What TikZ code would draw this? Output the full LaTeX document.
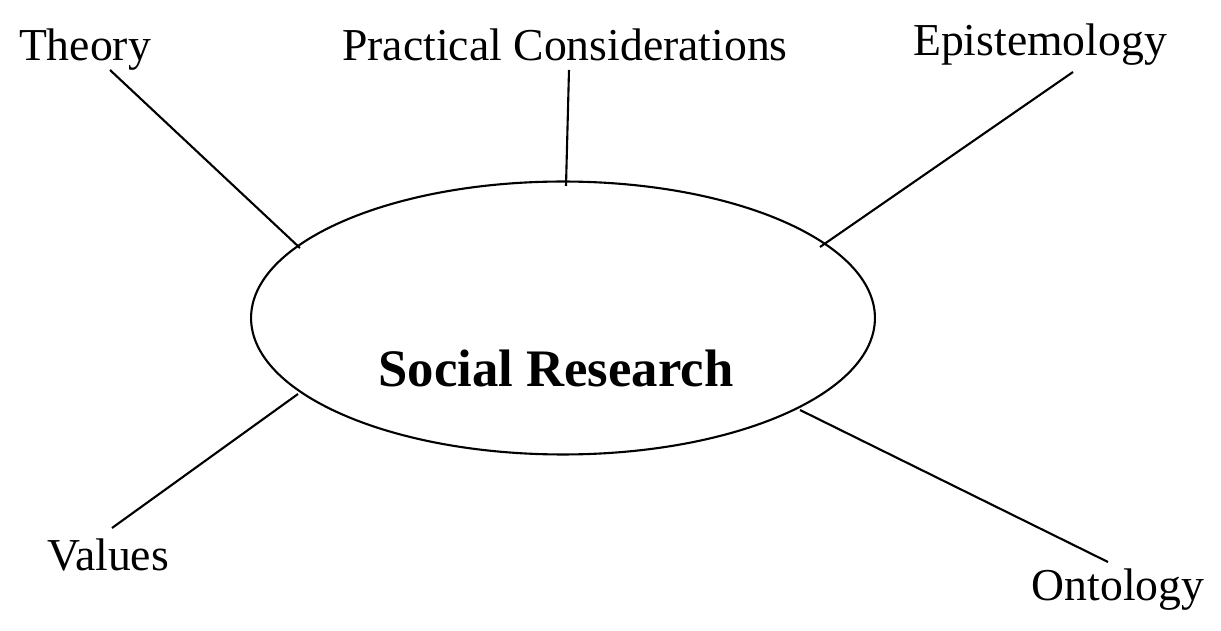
\documentclass[tikz,border=0pt]{standalone}
\usepackage{fontspec}
\setmainfont{Liberation Serif}
\usetikzlibrary{shapes.geometric}
\begin{document}
\begin{tikzpicture}[x=0.02cm,y=-0.02cm,
  lab/.style={font=\fontsize{26}{30}\selectfont, inner sep=0pt},
  conn/.style={line width=1.2pt}]
\useasboundingbox (0,0) rectangle (1221,631);
\node[draw, line width=1.2pt, ellipse, minimum width=624\pgflinewidth*0+12.48cm, minimum height=5.46cm] (sr) at (563,318) {};
\node[font=\bfseries\fontsize{30}{34}\selectfont] (srt) at (556,368) {Social Research};
\node[lab] (th) at (85,50) {Theory};
\node[lab] (pc) at (565,45) {Practical Considerations};
\node[lab] (ep) at (1040,45) {Epistemology};
\node[lab] (va) at (108,555) {Values};
\node[lab] (on) at (1118,590) {Ontology};
\coordinate (a1) at (110,70); \coordinate (b1) at (300,248);
\coordinate (a2) at (569,70); \coordinate (b2) at (566,186);
\coordinate (a3) at (1073,72); \coordinate (b3) at (820,247);
\coordinate (a4) at (112,528); \coordinate (b4) at (298,394);
\coordinate (a5) at (1108,562); \coordinate (b5) at (800,410);
\draw[conn] (a1) -- (b1);
\draw[conn] (a2) -- (b2);
\draw[conn] (a3) -- (b3);
\draw[conn] (a4) -- (b4);
\draw[conn] (a5) -- (b5);
\end{tikzpicture}
\end{document}
